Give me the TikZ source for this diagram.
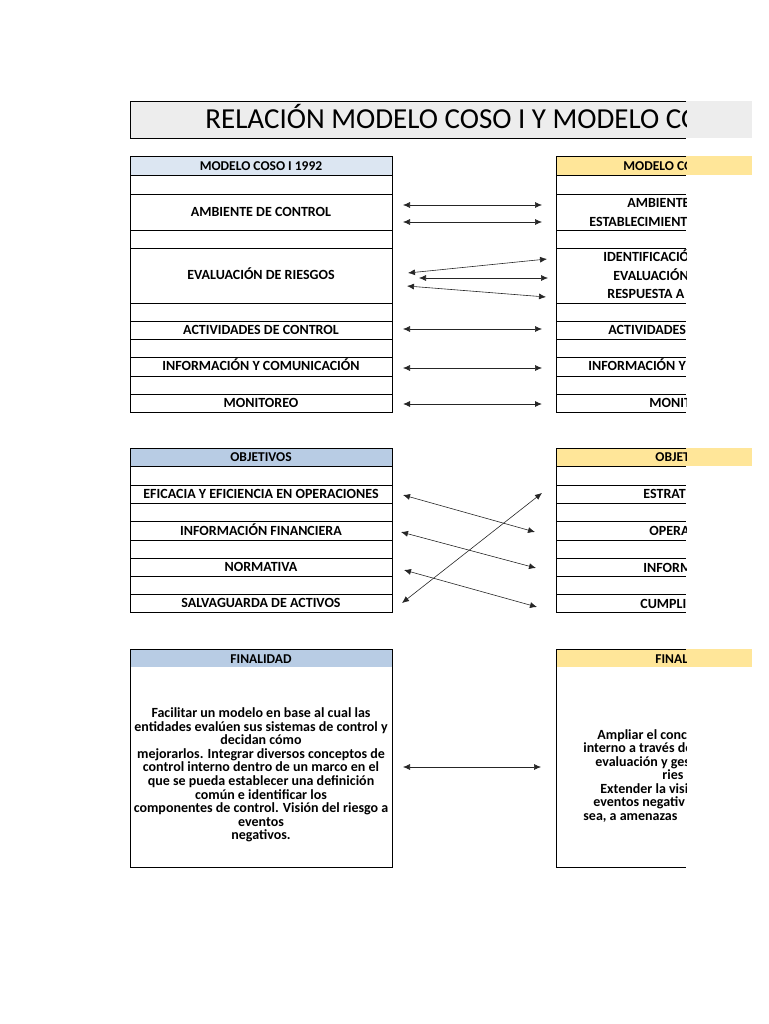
\documentclass[tikz,border=0pt]{standalone}
\usepackage{fontspec}
\setmainfont{Carlito}
\usetikzlibrary{arrows.meta}
\definecolor{hdrlight}{RGB}{220,230,242}
\definecolor{hdrblue}{RGB}{184,204,228}
\definecolor{hdryellow}{RGB}{255,230,153}
\definecolor{titlegray}{RGB}{237,237,237}

\begin{document}
\begin{tikzpicture}[x=1pt,y=-1pt, line width=0.8pt,
    celltxt/.style={font=\fontsize{14}{16}\selectfont\bfseries, inner sep=0pt, anchor=base},
    hdrtxt/.style={font=\fontsize{13.5}{15}\selectfont\bfseries, inner sep=0pt, anchor=base},
    righttxt/.style={font=\fontsize{14}{16}\selectfont\bfseries, inner sep=0pt, anchor=base west},
    lowtxt/.style={font=\fontsize{14}{13.5}\selectfont\bfseries, inner sep=0pt, anchor=base west},
    link/.style={{Latex[length=7pt,width=6pt]}-{Latex[length=7pt,width=6pt]}, line width=0.6pt, black!85}]
    \useasboundingbox (0,0) rectangle (768,1024);
    % title
    \fill [titlegray] (130,101) rectangle (752,138);
    \draw (686,101) -- (130,101) -- (130,138) -- (686,138);
    \begin{scope}
      \clip (130,95) rectangle (686,145);
      \node (title) [font=\fontsize{29}{32}\selectfont, inner sep=0pt, anchor=base west] at (205,128.5) {RELACIÓN MODELO COSO I Y MODELO CO};
    \end{scope}
    %
    % first block, left table
    \filldraw [draw=black, fill=hdrlight] (130,156) rectangle (392,175);
    \draw (130,175) rectangle (392,194);
    \draw (130,194) rectangle (392,230);
    \draw (130,230) rectangle (392,248);
    \draw (130,248) rectangle (392,303);
    \draw (130,303) rectangle (392,321);
    \draw (130,321) rectangle (392,339);
    \draw (130,339) rectangle (392,357);
    \draw (130,357) rectangle (392,376);
    \draw (130,376) rectangle (392,394);
    \draw (130,394) rectangle (392,412);
    \node (hdrA) [hdrtxt] at (261,170.5) {MODELO COSO I 1992};
    \node (amb) [celltxt] at (261,216.5) {AMBIENTE DE CONTROL};
    \node (eval) [celltxt] at (261,279.5) {EVALUACIÓN DE RIESGOS};
    \node (act) [celltxt] at (261,334.5) {ACTIVIDADES DE CONTROL};
    \node (info) [celltxt] at (261,370.5) {INFORMACIÓN Y COMUNICACIÓN};
    \node (mon) [celltxt] at (261,407.5) {MONITOREO};
    %
    % first block, right table
    \fill [hdryellow] (556,156) rectangle (752,175);
    \draw (686,156) -- (556,156) -- (556,412) -- (686,412);
    \draw (556,175) -- (686,175);
    \draw (556,194) -- (686,194);
    \draw (556,230) -- (686,230);
    \draw (556,248) -- (686,248);
    \draw (556,303) -- (686,303);
    \draw (556,321) -- (686,321);
    \draw (556,339) -- (686,339);
    \draw (556,357) -- (686,357);
    \draw (556,376) -- (686,376);
    \draw (556,394) -- (686,394);
    \begin{scope}
      \clip (556,150) rectangle (686,420);
      \node (hdrB) [hdrtxt, anchor=base west] at (623,170.5) {MODELO CO};
      \node (ambB) [righttxt] at (627,207.5) {AMBIENTE};
      \node (estB) [righttxt] at (589,226.5) {ESTABLECIMIENT};
      \node (idenB) [righttxt] at (603,261.5) {IDENTIFICACIÓ};
      \node (evalB) [righttxt] at (613,280.5) {EVALUACIÓN};
      \node (respB) [righttxt] at (607,298.5) {RESPUESTA A};
      \node (actB) [righttxt] at (608,334.5) {ACTIVIDADES};
      \node (infoB) [righttxt] at (588,370.5) {INFORMACIÓN Y};
      \node (monB) [righttxt] at (649,407.5) {MONIT};
    \end{scope}
    %
    \coordinate (a1) at (403,205); \coordinate (b1) at (542,205);
    \coordinate (a2) at (403,222); \coordinate (b2) at (542,222);
    \coordinate (a3) at (408,273); \coordinate (b3) at (547,259);
    \coordinate (a4) at (419,278); \coordinate (b4) at (548,278);
    \coordinate (a5) at (407,286); \coordinate (b5) at (546,297);
    \coordinate (a6) at (403,329); \coordinate (b6) at (542,329);
    \coordinate (a7) at (403,368); \coordinate (b7) at (542,368);
    \coordinate (a8) at (403,404); \coordinate (b8) at (542,404);
    \draw [link] (a1) -- (b1);
    \draw [link] (a2) -- (b2);
    \draw [link] (a3) -- (b3);
    \draw [link] (a4) -- (b4);
    \draw [link] (a5) -- (b5);
    \draw [link] (a6) -- (b6);
    \draw [link] (a7) -- (b7);
    \draw [link, line width=0.9pt] (a8) -- (b8);
    %
    % second block, left table
    \filldraw [draw=black, fill=hdrblue] (130,448) rectangle (392,466);
    \draw (130,466) rectangle (392,485);
    \draw (130,485) rectangle (392,503);
    \draw (130,503) rectangle (392,521);
    \draw (130,521) rectangle (392,540);
    \draw (130,540) rectangle (392,558);
    \draw (130,558) rectangle (392,576);
    \draw (130,576) rectangle (392,594);
    \draw (130,594) rectangle (392,612);
    \node (objA) [hdrtxt] at (261,461.5) {OBJETIVOS};
    \node (efic) [celltxt] at (261,498.5) {EFICACIA Y EFICIENCIA EN OPERACIONES};
    \node (finan) [celltxt] at (261,535.5) {INFORMACIÓN FINANCIERA};
    \node (norma) [celltxt] at (261,571.5) {NORMATIVA};
    \node (salva) [celltxt] at (261,607.5) {SALVAGUARDA DE ACTIVOS};
    %
    % second block, right table
    \fill [hdryellow] (556,448) rectangle (752,466);
    \draw (686,448) -- (556,448) -- (556,612) -- (686,612);
    \draw (556,466) -- (686,466);
    \draw (556,485) -- (686,485);
    \draw (556,503) -- (686,503);
    \draw (556,521) -- (686,521);
    \draw (556,540) -- (686,540);
    \draw (556,558) -- (686,558);
    \draw (556,576) -- (686,576);
    \draw (556,594) -- (686,594);
    \begin{scope}
      \clip (556,440) rectangle (686,620);
      \node (objB) [hdrtxt, anchor=base west] at (655,461.5) {OBJET};
      \node (estrB) [righttxt] at (643,498.5) {ESTRAT};
      \node (operB) [righttxt] at (649,535.5) {OPERA};
      \node (infB) [righttxt] at (643,572.5) {INFORM};
      \node (cumB) [righttxt] at (640,608.5) {CUMPLI};
    \end{scope}
    %
    \coordinate (c1) at (403,495); \coordinate (d1) at (535,532);
    \coordinate (c2) at (401,532); \coordinate (d2) at (536,568);
    \coordinate (c3) at (404,570); \coordinate (d3) at (537,607);
    \coordinate (c4) at (402,603); \coordinate (d4) at (542,493);
    \draw [link] (c1) -- (d1);
    \draw [link] (c2) -- (d2);
    \draw [link] (c3) -- (d3);
    \draw [link] (c4) -- (d4);
    %
    % third block
    \fill [hdrblue] (130,649) rectangle (392,667);
    \draw (130,649) rectangle (392,867);
    \node (finA) [hdrtxt] at (261,663.5) {FINALIDAD};
    \node (finAtxt) [font=\fontsize{14}{13.55}\selectfont\bfseries, inner sep=0pt, align=center] at (261,775)
      {Facilitar un modelo en base al cual las\\ entidades evalúen sus sistemas de control y\\ decidan cómo\\
       mejorarlos. Integrar diversos conceptos de\\ control interno dentro de un marco en el\\
       que se pueda establecer una definición\\ común e identificar los\\
       componentes de control. Visión del riesgo a\\ eventos\\ negativos.};
    \fill [hdryellow] (556,649) rectangle (752,667);
    \draw (686,649) -- (556,649) -- (556,867) -- (686,867);
    \begin{scope}
      \clip (556,640) rectangle (686,875);
      \node (finB) [hdrtxt, anchor=base west] at (655,663.5) {FINAL};
      \node (fin1) [lowtxt] at (597,739) {Ampliar el conc};
      \node (fin2) [lowtxt] at (583,752.5) {interno a través de};
      \node (fin3) [lowtxt] at (595,766) {evaluación y ges};
      \node (fin4) [lowtxt] at (662,779.5) {ries};
      \node (fin5) [lowtxt] at (600,793) {Extender la visi};
      \node (fin6) [lowtxt] at (593,806.5) {eventos negativ};
      \node (fin7) [lowtxt] at (583,820) {sea, a amenazas};
    \end{scope}
    \coordinate (e1) at (403,767); \coordinate (f1) at (541,767);
    \draw [link] (e1) -- (f1);
\end{tikzpicture}
\end{document}
